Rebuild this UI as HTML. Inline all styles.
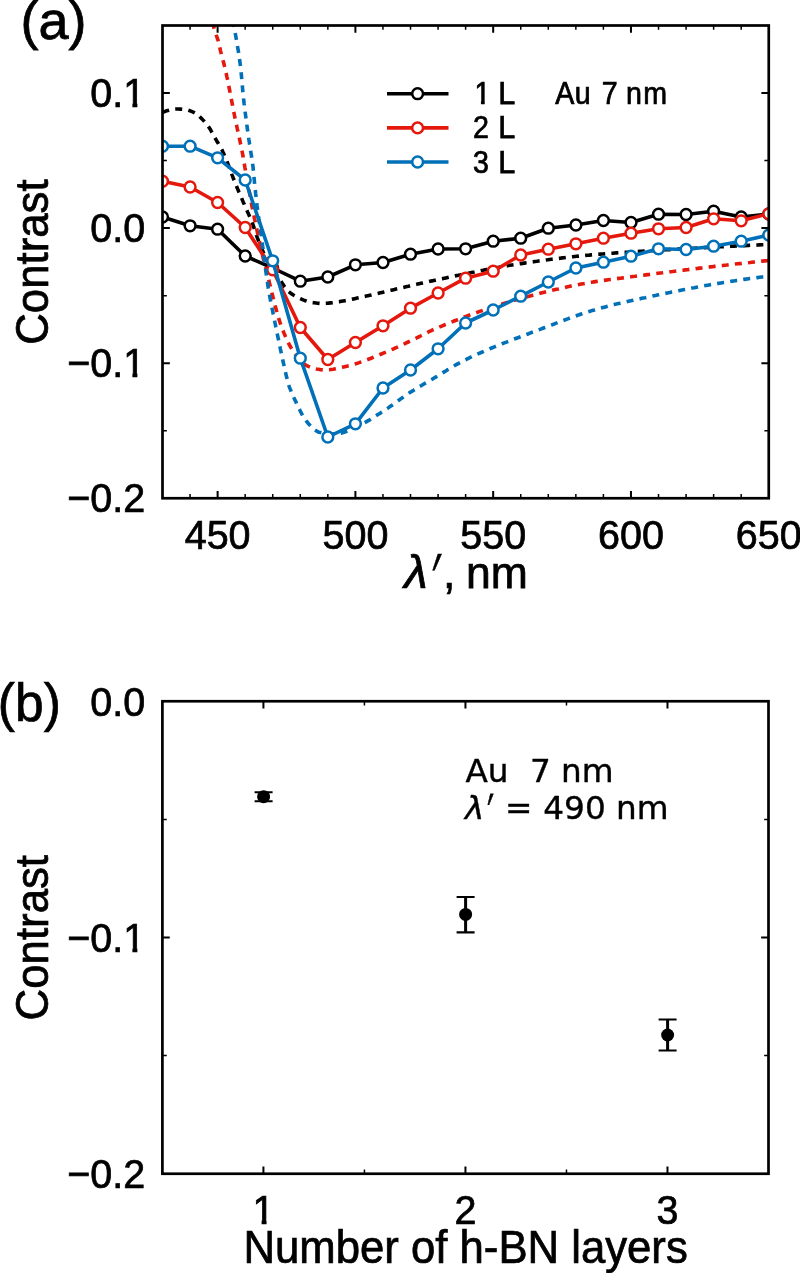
<!DOCTYPE html>
<html lang="en"><head><meta charset="utf-8"><title>Contrast of h-BN layers</title>
<style>html,body{margin:0;padding:0;background:#fff}body{width:800px;height:1273px;overflow:hidden}svg{display:block}text{font-family:"Liberation Sans",Arial,Helvetica,sans-serif;fill:#000}.dj{font-family:"DejaVu Sans","Liberation Sans",sans-serif}</style></head><body>
<svg width="800" height="1273" viewBox="0 0 800 1273">
<rect width="800" height="1273" fill="#fff"/>
<defs><clipPath id="ca"><rect x="162.5" y="25.5" width="606.25" height="472.75"/></clipPath></defs>
<g clip-path="url(#ca)" fill="none" stroke-linejoin="round">
<path d="M162.5,112.4 L164.2,111.7 L165.9,111.1 L167.7,110.6 L169.4,110.1 L171.2,109.8 L173.0,109.4 L174.8,109.1 L176.6,109.0 L178.4,109.0 L180.2,109.1 L182.1,109.2 L183.9,109.4 L185.6,109.6 L187.4,109.9 L189.2,110.5 L190.9,111.1 L192.6,111.8 L194.3,112.6 L195.8,113.4 L197.3,114.5 L198.7,115.6 L200.0,116.9 L201.3,118.2 L202.6,119.6 L203.8,120.9 L205.0,122.3 L206.2,123.7 L207.3,125.1 L208.4,126.6 L209.4,128.1 L210.4,129.6 L211.3,131.2 L212.2,132.7 L213.0,134.3 L213.9,136.0 L214.8,137.6 L215.7,139.1 L216.6,140.7 L217.5,142.3 L218.5,143.8 L219.4,145.4 L220.4,146.9 L221.2,148.5 L222.1,150.1 L222.8,151.8 L223.6,153.4 L224.3,155.1 L225.0,156.8 L225.7,158.5 L226.4,160.1 L227.0,161.8 L227.7,163.5 L228.4,165.2 L229.0,166.9 L229.6,168.6 L230.3,170.3 L230.9,172.0 L231.6,173.7 L232.2,175.4 L232.9,177.1 L233.5,178.8 L234.2,180.5 L234.9,182.2 L235.6,183.8 L236.2,185.5 L236.9,187.2 L237.6,188.9 L238.3,190.5 L239.0,192.2 L239.8,193.9 L240.5,195.6 L241.2,197.2 L241.9,198.9 L242.6,200.6 L243.3,202.2 L244.1,203.9 L244.8,205.6 L245.5,207.2 L246.3,208.9 L247.0,210.6 L247.7,212.2 L248.5,213.9 L249.2,215.5 L250.0,217.2 L250.7,218.8 L251.4,220.5 L252.1,222.2 L252.7,223.9 L253.3,225.6 L253.8,227.4 L254.4,229.1 L254.9,230.8 L255.5,232.6 L256.1,234.3 L256.7,236.0 L257.3,237.7 L258.0,239.4 L258.6,241.1 L259.3,242.8 L260.0,244.5 L260.6,246.2 L261.3,247.9 L262.1,249.5 L262.8,251.2 L263.5,252.9 L264.3,254.5 L265.0,256.2 L265.8,257.8 L266.6,259.4 L267.5,261.0 L268.3,262.6 L269.2,264.2 L270.2,265.7 L271.1,267.2 L272.1,268.7 L273.2,270.2 L274.2,271.7 L275.3,273.2 L276.3,274.7 L277.4,276.2 L278.5,277.7 L279.5,279.1 L280.6,280.6 L281.6,282.2 L282.6,283.7 L283.6,285.3 L284.6,286.9 L285.7,288.3 L286.8,289.7 L288.0,291.0 L289.3,292.1 L290.7,293.2 L292.2,294.3 L293.8,295.3 L295.4,296.2 L297.0,297.1 L298.7,297.9 L300.3,298.6 L302.0,299.4 L303.7,300.1 L305.4,300.7 L307.1,301.3 L308.9,301.8 L310.6,302.3 L312.4,302.6 L314.2,302.8 L316.0,303.0 L317.8,303.2 L319.6,303.4 L321.4,303.5 L323.3,303.5 L325.1,303.4 L326.9,303.3 L328.7,303.1 L330.5,302.9 L332.3,302.7 L334.1,302.4 L335.9,302.1 L337.7,301.8 L339.5,301.6 L341.3,301.3 L343.1,301.0 L344.9,300.7 L346.6,300.4 L348.4,300.0 L350.2,299.6 L352.0,299.2 L353.8,298.9 L355.5,298.5 L357.3,298.1 L359.1,297.7 L360.9,297.3 L362.6,296.9 L364.4,296.5 L366.2,296.1 L368.0,295.7 L369.7,295.3 L371.5,294.9 L373.3,294.5 L375.0,294.1 L376.8,293.7 L378.6,293.3 L380.3,292.8 L382.1,292.4 L383.9,292.0 L385.6,291.6 L387.4,291.1 L389.2,290.7 L390.9,290.3 L392.7,289.9 L394.5,289.5 L396.2,289.0 L398.0,288.6 L399.8,288.2 L401.5,287.8 L403.3,287.4 L405.1,287.0 L406.8,286.6 L408.6,286.2 L410.4,285.7 L412.2,285.3 L413.9,284.9 L415.7,284.5 L417.5,284.1 L419.2,283.7 L421.0,283.3 L422.8,282.9 L424.5,282.5 L426.3,282.1 L428.1,281.7 L429.9,281.3 L431.6,280.9 L433.4,280.6 L435.2,280.2 L437.0,279.8 L438.7,279.4 L440.5,279.0 L442.3,278.7 L444.1,278.3 L445.9,277.9 L447.6,277.5 L449.4,277.1 L451.2,276.8 L453.0,276.4 L454.7,276.0 L456.5,275.6 L458.3,275.3 L460.1,274.9 L461.9,274.5 L463.6,274.2 L465.4,273.8 L467.2,273.4 L469.0,273.1 L470.8,272.7 L472.5,272.3 L474.3,272.0 L476.1,271.6 L477.9,271.2 L479.7,270.9 L481.5,270.5 L483.2,270.2 L485.0,269.8 L486.8,269.5 L488.6,269.2 L490.4,268.8 L492.2,268.5 L493.9,268.2 L495.7,267.8 L497.5,267.5 L499.3,267.2 L501.1,266.9 L502.9,266.5 L504.7,266.2 L506.5,265.9 L508.2,265.6 L510.0,265.3 L511.8,265.0 L513.6,264.7 L515.4,264.5 L517.2,264.2 L519.0,263.9 L520.8,263.6 L522.6,263.4 L524.4,263.1 L526.2,262.8 L528.0,262.6 L529.8,262.3 L531.6,262.0 L533.4,261.8 L535.1,261.5 L536.9,261.3 L538.7,261.0 L540.5,260.8 L542.3,260.5 L544.1,260.3 L545.9,260.0 L547.8,259.8 L549.6,259.5 L551.4,259.3 L553.2,259.1 L555.0,258.8 L556.8,258.6 L558.6,258.4 L560.4,258.2 L562.2,257.9 L564.0,257.7 L565.8,257.5 L567.6,257.3 L569.4,257.1 L571.2,256.9 L573.0,256.7 L574.8,256.5 L576.6,256.3 L578.4,256.1 L580.2,255.9 L582.0,255.7 L583.8,255.6 L585.7,255.4 L587.5,255.2 L589.3,255.1 L591.1,254.9 L592.9,254.7 L594.7,254.6 L596.5,254.4 L598.3,254.3 L600.1,254.1 L601.9,254.0 L603.7,253.9 L605.5,253.7 L607.4,253.6 L609.2,253.4 L611.0,253.3 L612.8,253.2 L614.6,253.0 L616.4,252.9 L618.2,252.8 L620.0,252.7 L621.8,252.5 L623.7,252.4 L625.5,252.3 L627.3,252.2 L629.1,252.0 L630.9,251.9 L632.7,251.8 L634.5,251.7 L636.3,251.6 L638.2,251.5 L640.0,251.3 L641.8,251.2 L643.6,251.1 L645.4,251.0 L647.2,250.9 L649.0,250.8 L650.9,250.7 L652.7,250.6 L654.5,250.5 L656.3,250.4 L658.1,250.3 L659.9,250.2 L661.7,250.0 L663.6,249.9 L665.4,249.8 L667.2,249.7 L669.0,249.6 L670.8,249.5 L672.6,249.4 L674.4,249.3 L676.2,249.2 L678.1,249.1 L679.9,249.0 L681.7,248.9 L683.5,248.8 L685.3,248.7 L687.1,248.6 L688.9,248.5 L690.8,248.4 L692.6,248.3 L694.4,248.2 L696.2,248.1 L698.0,248.0 L699.8,247.9 L701.6,247.8 L703.4,247.7 L705.3,247.6 L707.1,247.5 L708.9,247.4 L710.7,247.3 L712.5,247.2 L714.3,247.1 L716.1,247.0 L718.0,246.9 L719.8,246.8 L721.6,246.7 L723.4,246.6 L725.2,246.5 L727.0,246.5 L728.8,246.4 L730.6,246.3 L732.5,246.2 L734.3,246.1 L736.1,246.0 L737.9,245.9 L739.7,245.8 L741.5,245.7 L743.3,245.6 L745.2,245.6 L747.0,245.5 L748.8,245.4 L750.6,245.3 L752.4,245.2 L754.2,245.1 L756.0,245.1 L757.9,245.0 L759.7,244.9 L761.5,244.8 L763.3,244.7 L765.1,244.7 L766.9,244.6 L768.8,244.5" stroke="#000000" stroke-width="3.6" stroke-dasharray="7 6.2"/>
<path d="M162.5,217.0 L190.1,225.8 L217.6,229.2 L245.2,256.0 L272.7,268.0 L300.3,281.2 L327.8,277.0 L355.4,264.8 L383.0,262.5 L410.5,254.2 L438.1,249.0 L465.6,248.8 L493.2,241.2 L520.7,238.2 L548.3,228.2 L575.9,225.0 L603.4,220.5 L631.0,222.5 L658.5,214.2 L686.1,214.5 L713.6,211.2 L741.2,217.0 L768.8,214.0" stroke="#000000" stroke-width="3.6"/>
<g fill="#fff" stroke="#000000" stroke-width="2.5"><circle cx="162.5" cy="217.0" r="5.4"/><circle cx="190.1" cy="225.8" r="5.4"/><circle cx="217.6" cy="229.2" r="5.4"/><circle cx="245.2" cy="256.0" r="5.4"/><circle cx="272.7" cy="268.0" r="5.4"/><circle cx="300.3" cy="281.2" r="5.4"/><circle cx="327.8" cy="277.0" r="5.4"/><circle cx="355.4" cy="264.8" r="5.4"/><circle cx="383.0" cy="262.5" r="5.4"/><circle cx="410.5" cy="254.2" r="5.4"/><circle cx="438.1" cy="249.0" r="5.4"/><circle cx="465.6" cy="248.8" r="5.4"/><circle cx="493.2" cy="241.2" r="5.4"/><circle cx="520.7" cy="238.2" r="5.4"/><circle cx="548.3" cy="228.2" r="5.4"/><circle cx="575.9" cy="225.0" r="5.4"/><circle cx="603.4" cy="220.5" r="5.4"/><circle cx="631.0" cy="222.5" r="5.4"/><circle cx="658.5" cy="214.2" r="5.4"/><circle cx="686.1" cy="214.5" r="5.4"/><circle cx="713.6" cy="211.2" r="5.4"/><circle cx="741.2" cy="217.0" r="5.4"/><circle cx="768.8" cy="214.0" r="5.4"/></g>
<path d="M212.5,22.0 L213.0,24.0 L213.5,26.1 L214.0,28.1 L214.6,30.1 L215.3,32.1 L216.0,34.1 L216.6,36.1 L217.3,38.1 L218.0,40.1 L218.5,42.1 L219.0,44.2 L219.5,46.2 L220.0,48.3 L220.4,50.3 L220.9,52.4 L221.4,54.4 L221.9,56.4 L222.4,58.5 L223.0,60.5 L223.6,62.5 L224.1,64.5 L224.6,66.6 L225.1,68.6 L225.6,70.7 L226.0,72.7 L226.5,74.8 L226.9,76.8 L227.4,78.9 L227.8,80.9 L228.2,83.0 L228.6,85.1 L229.0,87.1 L229.4,89.2 L229.8,91.2 L230.2,93.3 L230.6,95.4 L231.0,97.4 L231.4,99.5 L231.8,101.6 L232.2,103.6 L232.6,105.7 L233.0,107.8 L233.4,109.8 L233.8,111.9 L234.2,114.0 L234.6,116.0 L235.0,118.1 L235.4,120.1 L235.9,122.2 L236.3,124.2 L236.8,126.3 L237.2,128.4 L237.7,130.4 L238.1,132.5 L238.6,134.5 L239.0,136.6 L239.5,138.6 L239.9,140.7 L240.3,142.7 L240.8,144.8 L241.2,146.8 L241.6,148.9 L242.0,151.0 L242.4,153.0 L242.8,155.1 L243.2,157.2 L243.5,159.2 L243.9,161.3 L244.2,163.4 L244.6,165.4 L244.9,167.5 L245.3,169.6 L245.6,171.7 L246.0,173.7 L246.4,175.8 L246.7,177.9 L247.1,179.9 L247.5,182.0 L247.9,184.1 L248.2,186.1 L248.6,188.2 L249.0,190.3 L249.4,192.3 L249.8,194.4 L250.1,196.5 L250.5,198.5 L250.9,200.6 L251.3,202.7 L251.7,204.7 L252.1,206.8 L252.5,208.9 L252.9,210.9 L253.3,213.0 L253.8,215.0 L254.2,217.1 L254.6,219.1 L255.1,221.2 L255.5,223.3 L255.9,225.3 L256.4,227.4 L256.8,229.4 L257.2,231.5 L257.7,233.5 L258.1,235.6 L258.6,237.6 L259.0,239.7 L259.5,241.7 L259.9,243.8 L260.4,245.8 L260.9,247.9 L261.3,249.9 L261.8,252.0 L262.3,254.0 L262.8,256.1 L263.2,258.1 L263.7,260.2 L264.2,262.2 L264.7,264.2 L265.3,266.3 L265.8,268.3 L266.3,270.4 L266.8,272.4 L267.3,274.4 L267.8,276.5 L268.4,278.5 L268.9,280.5 L269.4,282.6 L269.9,284.6 L270.4,286.7 L270.9,288.7 L271.4,290.7 L271.9,292.8 L272.4,294.8 L272.9,296.9 L273.4,298.9 L273.9,301.0 L274.4,303.0 L274.9,305.0 L275.5,307.1 L276.0,309.1 L276.6,311.1 L277.1,313.1 L277.7,315.2 L278.3,317.2 L278.9,319.2 L279.6,321.2 L280.2,323.2 L280.9,325.1 L281.7,327.1 L282.4,329.1 L283.2,331.1 L284.0,333.1 L284.8,335.1 L285.7,337.0 L286.5,339.0 L287.4,340.9 L288.4,342.8 L289.3,344.6 L290.3,346.5 L291.4,348.2 L292.5,349.9 L293.6,351.7 L294.8,353.5 L296.1,355.3 L297.4,357.1 L298.8,358.9 L300.3,360.5 L301.8,362.1 L303.4,363.5 L305.0,364.7 L306.7,365.6 L308.4,366.4 L310.3,367.1 L312.2,367.7 L314.3,368.3 L316.4,368.9 L318.6,369.3 L320.7,369.7 L322.9,369.9 L325.0,370.0 L327.0,369.9 L329.1,369.8 L331.2,369.5 L333.3,369.2 L335.3,368.8 L337.4,368.4 L339.5,367.9 L341.6,367.4 L343.6,366.9 L345.7,366.4 L347.7,365.9 L349.7,365.5 L351.8,364.9 L353.8,364.3 L355.8,363.7 L357.8,363.1 L359.8,362.4 L361.8,361.7 L363.7,361.0 L365.7,360.3 L367.7,359.5 L369.7,358.8 L371.6,358.0 L373.6,357.2 L375.5,356.4 L377.5,355.6 L379.4,354.8 L381.4,354.0 L383.3,353.2 L385.3,352.4 L387.2,351.6 L389.1,350.8 L391.1,349.9 L393.0,349.1 L394.9,348.2 L396.8,347.4 L398.7,346.5 L400.6,345.6 L402.5,344.7 L404.4,343.8 L406.3,342.9 L408.2,342.0 L410.1,341.1 L412.0,340.1 L413.9,339.2 L415.8,338.3 L417.7,337.4 L419.6,336.5 L421.5,335.5 L423.3,334.6 L425.2,333.6 L427.1,332.6 L428.9,331.7 L430.8,330.8 L432.7,329.9 L434.7,329.1 L436.6,328.2 L438.5,327.4 L440.4,326.6 L442.4,325.8 L444.3,325.0 L446.3,324.2 L448.2,323.4 L450.1,322.6 L452.1,321.8 L454.1,321.0 L456.0,320.3 L458.0,319.5 L459.9,318.7 L461.9,318.0 L463.9,317.2 L465.8,316.5 L467.8,315.7 L469.8,315.0 L471.8,314.3 L473.8,313.6 L475.7,312.9 L477.7,312.2 L479.7,311.4 L481.7,310.8 L483.7,310.1 L485.7,309.4 L487.7,308.7 L489.7,308.0 L491.7,307.4 L493.7,306.7 L495.7,306.1 L497.7,305.4 L499.7,304.8 L501.7,304.2 L503.7,303.5 L505.7,302.9 L507.7,302.3 L509.8,301.7 L511.8,301.1 L513.8,300.5 L515.8,299.9 L517.8,299.4 L519.8,298.8 L521.8,298.2 L523.9,297.7 L525.9,297.1 L527.9,296.6 L529.9,296.0 L531.9,295.5 L534.0,294.9 L536.0,294.4 L538.0,293.9 L540.1,293.3 L542.1,292.8 L544.2,292.3 L546.2,291.8 L548.2,291.3 L550.3,290.8 L552.3,290.3 L554.4,289.8 L556.4,289.3 L558.5,288.9 L560.5,288.4 L562.6,287.9 L564.7,287.5 L566.7,287.0 L568.8,286.6 L570.8,286.1 L572.9,285.7 L575.0,285.3 L577.0,284.9 L579.1,284.5 L581.1,284.1 L583.2,283.7 L585.3,283.3 L587.3,283.0 L589.4,282.6 L591.5,282.3 L593.5,281.9 L595.6,281.6 L597.7,281.3 L599.8,281.0 L601.8,280.7 L603.9,280.4 L606.0,280.1 L608.1,279.8 L610.2,279.5 L612.3,279.3 L614.4,279.0 L616.4,278.7 L618.5,278.4 L620.6,278.2 L622.7,277.9 L624.8,277.6 L626.9,277.3 L628.9,277.1 L631.0,276.8 L633.1,276.5 L635.2,276.3 L637.3,276.0 L639.4,275.7 L641.4,275.4 L643.5,275.2 L645.6,274.9 L647.7,274.6 L649.8,274.4 L651.9,274.1 L653.9,273.8 L656.0,273.6 L658.1,273.3 L660.2,273.0 L662.3,272.8 L664.4,272.5 L666.4,272.2 L668.5,272.0 L670.6,271.7 L672.7,271.5 L674.8,271.2 L676.9,270.9 L679.0,270.7 L681.0,270.4 L683.1,270.2 L685.2,269.9 L687.3,269.7 L689.4,269.4 L691.5,269.1 L693.6,268.9 L695.6,268.6 L697.7,268.4 L699.8,268.1 L701.9,267.9 L704.0,267.6 L706.1,267.4 L708.2,267.1 L710.3,266.9 L712.3,266.7 L714.4,266.4 L716.5,266.2 L718.6,265.9 L720.7,265.7 L722.8,265.5 L724.9,265.2 L727.0,265.0 L729.0,264.7 L731.1,264.5 L733.2,264.3 L735.3,264.0 L737.4,263.8 L739.5,263.6 L741.6,263.4 L743.7,263.1 L745.8,262.9 L747.8,262.7 L749.9,262.5 L752.0,262.2 L754.1,262.0 L756.2,261.8 L758.3,261.6 L760.4,261.4 L762.5,261.1 L764.6,260.9 L766.7,260.7 L768.8,260.5" stroke="#e4180c" stroke-width="3.6" stroke-dasharray="7 6.2"/>
<path d="M162.5,181.2 L190.1,187.0 L217.6,202.5 L245.2,227.5 L272.7,269.8 L300.3,327.5 L327.8,359.5 L355.4,342.5 L383.0,325.8 L410.5,308.2 L438.1,293.0 L465.6,278.2 L493.2,271.2 L520.7,255.0 L548.3,249.2 L575.9,243.8 L603.4,238.2 L631.0,233.2 L658.5,228.8 L686.1,227.5 L713.6,218.8 L741.2,220.8 L768.8,213.8" stroke="#e4180c" stroke-width="3.6"/>
<g fill="#fff" stroke="#e4180c" stroke-width="2.5"><circle cx="162.5" cy="181.2" r="5.4"/><circle cx="190.1" cy="187.0" r="5.4"/><circle cx="217.6" cy="202.5" r="5.4"/><circle cx="245.2" cy="227.5" r="5.4"/><circle cx="272.7" cy="269.8" r="5.4"/><circle cx="300.3" cy="327.5" r="5.4"/><circle cx="327.8" cy="359.5" r="5.4"/><circle cx="355.4" cy="342.5" r="5.4"/><circle cx="383.0" cy="325.8" r="5.4"/><circle cx="410.5" cy="308.2" r="5.4"/><circle cx="438.1" cy="293.0" r="5.4"/><circle cx="465.6" cy="278.2" r="5.4"/><circle cx="493.2" cy="271.2" r="5.4"/><circle cx="520.7" cy="255.0" r="5.4"/><circle cx="548.3" cy="249.2" r="5.4"/><circle cx="575.9" cy="243.8" r="5.4"/><circle cx="603.4" cy="238.2" r="5.4"/><circle cx="631.0" cy="233.2" r="5.4"/><circle cx="658.5" cy="228.8" r="5.4"/><circle cx="686.1" cy="227.5" r="5.4"/><circle cx="713.6" cy="218.8" r="5.4"/><circle cx="741.2" cy="220.8" r="5.4"/><circle cx="768.8" cy="213.8" r="5.4"/></g>
<path d="M233.0,20.0 L233.3,22.3 L233.7,24.5 L234.0,26.8 L234.4,29.0 L234.9,31.2 L235.3,33.5 L235.7,35.7 L236.1,38.0 L236.5,40.2 L236.9,42.5 L237.2,44.7 L237.6,47.0 L238.0,49.2 L238.4,51.4 L238.7,53.7 L239.1,56.0 L239.4,58.2 L239.7,60.5 L240.0,62.7 L240.3,65.0 L240.6,67.2 L240.8,69.5 L241.0,71.8 L241.3,74.0 L241.5,76.3 L241.7,78.6 L241.9,80.8 L242.1,83.1 L242.3,85.4 L242.5,87.7 L242.7,89.9 L242.9,92.2 L243.2,94.5 L243.4,96.7 L243.6,99.0 L243.9,101.3 L244.1,103.5 L244.4,105.8 L244.7,108.0 L245.0,110.3 L245.2,112.6 L245.5,114.8 L245.8,117.1 L246.1,119.4 L246.4,121.6 L246.7,123.9 L247.0,126.1 L247.3,128.4 L247.6,130.6 L247.9,132.9 L248.2,135.2 L248.6,137.4 L248.9,139.7 L249.3,141.9 L249.6,144.2 L250.0,146.4 L250.3,148.7 L250.6,150.9 L251.0,153.2 L251.4,155.4 L251.7,157.7 L252.1,159.9 L252.4,162.2 L252.7,164.4 L253.0,166.7 L253.2,169.0 L253.4,171.2 L253.7,173.5 L253.9,175.8 L254.1,178.0 L254.3,180.3 L254.5,182.6 L254.7,184.9 L255.0,187.1 L255.2,189.4 L255.5,191.6 L255.7,193.9 L256.0,196.2 L256.2,198.4 L256.5,200.7 L256.8,203.0 L257.0,205.2 L257.3,207.5 L257.6,209.7 L257.9,212.0 L258.2,214.3 L258.5,216.5 L258.8,218.8 L259.2,221.0 L259.5,223.3 L259.8,225.5 L260.1,227.8 L260.5,230.1 L260.8,232.3 L261.1,234.6 L261.4,236.8 L261.7,239.1 L262.0,241.3 L262.3,243.6 L262.6,245.9 L262.9,248.1 L263.2,250.4 L263.4,252.6 L263.7,254.9 L264.0,257.2 L264.3,259.4 L264.6,261.7 L264.9,263.9 L265.2,266.2 L265.5,268.5 L265.8,270.7 L266.1,273.0 L266.4,275.2 L266.7,277.5 L267.0,279.8 L267.4,282.0 L267.7,284.3 L268.0,286.5 L268.4,288.8 L268.8,291.0 L269.1,293.3 L269.6,295.5 L270.0,297.7 L270.4,300.0 L270.9,302.2 L271.3,304.4 L271.8,306.7 L272.2,308.9 L272.7,311.1 L273.1,313.4 L273.6,315.6 L274.0,317.9 L274.5,320.1 L274.9,322.3 L275.4,324.6 L275.8,326.8 L276.3,329.0 L276.7,331.2 L277.2,333.5 L277.6,335.7 L278.1,337.9 L278.6,340.2 L279.0,342.4 L279.5,344.6 L280.0,346.9 L280.4,349.1 L280.9,351.3 L281.4,353.6 L281.8,355.8 L282.3,358.0 L282.8,360.2 L283.3,362.5 L283.8,364.7 L284.3,366.9 L284.8,369.1 L285.3,371.4 L285.8,373.6 L286.3,375.8 L286.9,378.0 L287.4,380.2 L288.0,382.4 L288.6,384.6 L289.3,386.8 L290.1,388.9 L291.0,391.0 L291.8,393.1 L292.8,395.2 L293.7,397.3 L294.7,399.4 L295.7,401.4 L296.6,403.5 L297.6,405.6 L298.6,407.7 L299.7,409.8 L300.7,411.9 L301.8,414.0 L302.9,416.0 L304.1,417.9 L305.4,419.7 L306.7,421.5 L308.1,423.2 L309.6,424.9 L311.2,426.7 L313.0,428.4 L314.9,430.0 L316.8,431.2 L318.7,432.2 L320.8,432.6 L322.9,433.0 L325.1,433.3 L327.5,433.6 L329.8,433.8 L332.2,433.9 L334.5,434.0 L336.7,433.9 L338.9,433.7 L341.1,433.2 L343.2,432.6 L345.4,431.8 L347.6,430.9 L349.7,430.0 L351.9,429.0 L354.0,427.9 L356.1,426.9 L358.1,425.9 L360.2,424.9 L362.2,423.9 L364.2,422.9 L366.2,421.8 L368.2,420.7 L370.2,419.6 L372.1,418.4 L374.1,417.1 L376.0,415.9 L377.9,414.6 L379.8,413.4 L381.8,412.1 L383.7,410.9 L385.6,409.6 L387.5,408.4 L389.3,407.1 L391.2,405.8 L393.1,404.5 L394.9,403.1 L396.8,401.8 L398.6,400.4 L400.5,399.1 L402.3,397.8 L404.2,396.5 L406.0,395.1 L407.9,393.9 L409.8,392.6 L411.7,391.4 L413.7,390.2 L415.6,389.0 L417.5,387.8 L419.5,386.6 L421.5,385.5 L423.4,384.3 L425.4,383.1 L427.4,382.0 L429.3,380.8 L431.3,379.7 L433.3,378.5 L435.2,377.4 L437.2,376.2 L439.1,375.0 L441.1,373.8 L443.0,372.6 L445.0,371.4 L446.9,370.2 L448.9,369.1 L450.8,367.9 L452.8,366.7 L454.8,365.5 L456.7,364.4 L458.7,363.3 L460.7,362.2 L462.7,361.2 L464.7,360.1 L466.8,359.1 L468.8,358.1 L470.8,357.2 L472.9,356.2 L475.0,355.3 L477.0,354.3 L479.1,353.4 L481.2,352.5 L483.3,351.6 L485.3,350.7 L487.4,349.8 L489.5,348.9 L491.6,348.0 L493.8,347.1 L495.9,346.3 L498.0,345.4 L500.1,344.6 L502.2,343.7 L504.3,342.9 L506.5,342.1 L508.6,341.2 L510.7,340.4 L512.9,339.6 L515.0,338.8 L517.2,338.0 L519.3,337.2 L521.4,336.4 L523.6,335.6 L525.7,334.8 L527.9,334.0 L530.0,333.1 L532.1,332.3 L534.3,331.5 L536.4,330.7 L538.5,329.9 L540.7,329.1 L542.8,328.3 L544.9,327.5 L547.1,326.7 L549.2,325.9 L551.3,325.1 L553.5,324.3 L555.6,323.4 L557.7,322.6 L559.8,321.8 L562.0,321.0 L564.1,320.2 L566.3,319.4 L568.4,318.6 L570.5,317.8 L572.7,317.0 L574.8,316.3 L577.0,315.5 L579.1,314.8 L581.3,314.0 L583.4,313.3 L585.6,312.6 L587.8,311.9 L589.9,311.3 L592.1,310.6 L594.3,310.0 L596.5,309.3 L598.7,308.7 L600.9,308.1 L603.1,307.5 L605.3,306.9 L607.5,306.3 L609.7,305.7 L611.9,305.2 L614.1,304.6 L616.3,304.1 L618.6,303.6 L620.8,303.1 L623.0,302.6 L625.2,302.1 L627.4,301.6 L629.6,301.1 L631.9,300.6 L634.1,300.1 L636.3,299.6 L638.5,299.1 L640.8,298.6 L643.0,298.1 L645.2,297.7 L647.4,297.2 L649.6,296.7 L651.9,296.2 L654.1,295.7 L656.3,295.3 L658.5,294.8 L660.8,294.3 L663.0,293.9 L665.2,293.4 L667.5,292.9 L669.7,292.5 L671.9,292.0 L674.2,291.6 L676.4,291.1 L678.6,290.7 L680.9,290.2 L683.1,289.8 L685.3,289.4 L687.6,288.9 L689.8,288.5 L692.0,288.1 L694.3,287.7 L696.5,287.2 L698.8,286.8 L701.0,286.4 L703.2,286.0 L705.5,285.6 L707.7,285.2 L710.0,284.8 L712.2,284.4 L714.5,284.0 L716.7,283.7 L719.0,283.3 L721.2,282.9 L723.5,282.5 L725.7,282.2 L728.0,281.8 L730.2,281.5 L732.5,281.1 L734.8,280.8 L737.0,280.4 L739.3,280.1 L741.5,279.8 L743.8,279.4 L746.1,279.1 L748.3,278.8 L750.6,278.5 L752.9,278.2 L755.1,277.9 L757.4,277.6 L759.7,277.3 L761.9,277.0 L764.2,276.8 L766.5,276.5 L768.8,276.3" stroke="#0070b8" stroke-width="3.6" stroke-dasharray="7 6.2"/>
<path d="M162.5,146.2 L190.1,146.2 L217.6,157.8 L245.2,180.0 L272.7,260.8 L300.3,358.2 L327.8,437.0 L355.4,423.8 L383.0,388.0 L410.5,370.0 L438.1,348.8 L465.6,323.0 L493.2,310.0 L520.7,296.2 L548.3,282.0 L575.9,268.0 L603.4,262.2 L631.0,256.2 L658.5,248.8 L686.1,249.5 L713.6,246.2 L741.2,241.2 L768.8,235.0" stroke="#0070b8" stroke-width="3.6"/>
<g fill="#fff" stroke="#0070b8" stroke-width="2.5"><circle cx="162.5" cy="146.2" r="5.4"/><circle cx="190.1" cy="146.2" r="5.4"/><circle cx="217.6" cy="157.8" r="5.4"/><circle cx="245.2" cy="180.0" r="5.4"/><circle cx="272.7" cy="260.8" r="5.4"/><circle cx="300.3" cy="358.2" r="5.4"/><circle cx="327.8" cy="437.0" r="5.4"/><circle cx="355.4" cy="423.8" r="5.4"/><circle cx="383.0" cy="388.0" r="5.4"/><circle cx="410.5" cy="370.0" r="5.4"/><circle cx="438.1" cy="348.8" r="5.4"/><circle cx="465.6" cy="323.0" r="5.4"/><circle cx="493.2" cy="310.0" r="5.4"/><circle cx="520.7" cy="296.2" r="5.4"/><circle cx="548.3" cy="282.0" r="5.4"/><circle cx="575.9" cy="268.0" r="5.4"/><circle cx="603.4" cy="262.2" r="5.4"/><circle cx="631.0" cy="256.2" r="5.4"/><circle cx="658.5" cy="248.8" r="5.4"/><circle cx="686.1" cy="249.5" r="5.4"/><circle cx="713.6" cy="246.2" r="5.4"/><circle cx="741.2" cy="241.2" r="5.4"/><circle cx="768.8" cy="235.0" r="5.4"/></g>
</g>
<line x1="387" y1="93.7" x2="448.5" y2="93.7" stroke="#000000" stroke-width="3.6"/>
<circle cx="417.6" cy="93.7" r="5.4" fill="#fff" stroke="#000000" stroke-width="2.5"/>
<line x1="387" y1="127.9" x2="448.5" y2="127.9" stroke="#e4180c" stroke-width="3.6"/>
<circle cx="417.6" cy="127.9" r="5.4" fill="#fff" stroke="#e4180c" stroke-width="2.5"/>
<line x1="387" y1="162.0" x2="448.5" y2="162.0" stroke="#0070b8" stroke-width="3.6"/>
<circle cx="417.6" cy="162.0" r="5.4" fill="#fff" stroke="#0070b8" stroke-width="2.5"/>
<g stroke="#000" fill="none"><path d="M217.61,25.5v7.35M217.61,498.25v-7.35" stroke-width="2.0"/><path d="M355.40,25.5v7.35M355.40,498.25v-7.35" stroke-width="2.0"/><path d="M493.18,25.5v7.35M493.18,498.25v-7.35" stroke-width="2.0"/><path d="M630.97,25.5v7.35M630.97,498.25v-7.35" stroke-width="2.0"/><path d="M190.06,25.5v4.35M190.06,498.25v-4.35" stroke-width="1.5"/><path d="M245.17,25.5v4.35M245.17,498.25v-4.35" stroke-width="1.5"/><path d="M272.73,25.5v4.35M272.73,498.25v-4.35" stroke-width="1.5"/><path d="M300.28,25.5v4.35M300.28,498.25v-4.35" stroke-width="1.5"/><path d="M327.84,25.5v4.35M327.84,498.25v-4.35" stroke-width="1.5"/><path d="M382.95,25.5v4.35M382.95,498.25v-4.35" stroke-width="1.5"/><path d="M410.51,25.5v4.35M410.51,498.25v-4.35" stroke-width="1.5"/><path d="M438.07,25.5v4.35M438.07,498.25v-4.35" stroke-width="1.5"/><path d="M465.62,25.5v4.35M465.62,498.25v-4.35" stroke-width="1.5"/><path d="M520.74,25.5v4.35M520.74,498.25v-4.35" stroke-width="1.5"/><path d="M548.30,25.5v4.35M548.30,498.25v-4.35" stroke-width="1.5"/><path d="M575.85,25.5v4.35M575.85,498.25v-4.35" stroke-width="1.5"/><path d="M603.41,25.5v4.35M603.41,498.25v-4.35" stroke-width="1.5"/><path d="M658.52,25.5v4.35M658.52,498.25v-4.35" stroke-width="1.5"/><path d="M686.08,25.5v4.35M686.08,498.25v-4.35" stroke-width="1.5"/><path d="M713.64,25.5v4.35M713.64,498.25v-4.35" stroke-width="1.5"/><path d="M741.19,25.5v4.35M741.19,498.25v-4.35" stroke-width="1.5"/><path d="M162.5,93.04h7.35M768.75,93.04h-7.35" stroke-width="2.0"/><path d="M162.5,228.11h7.35M768.75,228.11h-7.35" stroke-width="2.0"/><path d="M162.5,363.18h7.35M768.75,363.18h-7.35" stroke-width="2.0"/><path d="M162.5,160.57h4.35M768.75,160.57h-4.35" stroke-width="1.5"/><path d="M162.5,295.64h4.35M768.75,295.64h-4.35" stroke-width="1.5"/><path d="M162.5,430.71h4.35M768.75,430.71h-4.35" stroke-width="1.5"/></g>
<rect x="162.5" y="25.5" width="606.25" height="472.75" fill="none" stroke="#000" stroke-width="2.7"/>
<text transform="translate(145.2,107.2) scale(0.9569,1)" font-size="41.28" text-anchor="end" stroke="#000" stroke-width="0.75" >0.1</text>
<text transform="translate(145.2,242.3) scale(0.9569,1)" font-size="41.28" text-anchor="end" stroke="#000" stroke-width="0.75" >0.0</text>
<text transform="translate(145.2,377.4) scale(0.9569,1)" font-size="41.28" text-anchor="end" stroke="#000" stroke-width="0.75" >−0.1</text>
<text transform="translate(145.2,512.4) scale(0.9569,1)" font-size="41.28" text-anchor="end" stroke="#000" stroke-width="0.75" >−0.2</text>
<text transform="translate(217.6,549.0) scale(0.9569,1)" font-size="41.28" text-anchor="middle" stroke="#000" stroke-width="0.75" >450</text>
<text transform="translate(355.4,549.0) scale(0.9569,1)" font-size="41.28" text-anchor="middle" stroke="#000" stroke-width="0.75" >500</text>
<text transform="translate(493.2,549.0) scale(0.9569,1)" font-size="41.28" text-anchor="middle" stroke="#000" stroke-width="0.75" >550</text>
<text transform="translate(631.0,549.0) scale(0.9569,1)" font-size="41.28" text-anchor="middle" stroke="#000" stroke-width="0.75" >600</text>
<text transform="translate(768.8,549.0) scale(0.9569,1)" font-size="41.28" text-anchor="middle" stroke="#000" stroke-width="0.75" >650</text>
<text transform="translate(48.3,262.09999999999997) rotate(-90) scale(0.9416,1)" font-size="46.50" text-anchor="middle" stroke="#000" stroke-width="0.75">Contrast</text>
<text transform="translate(20.5,39.3) scale(1.0000,1)" font-size="54.00" text-anchor="start" stroke="#000" stroke-width="0.75" >(a)</text>
<text transform="translate(404.2,588.2) scale(1.0490,1)" font-size="45.39" text-anchor="start" stroke="#000" stroke-width="0.75" font-style="italic">λ</text>
<text transform="translate(423.9,598.1) skewX(-14) scale(0.62,1)" font-size="64" stroke="#000" stroke-width="0.6">′</text>
<text transform="translate(443,588) scale(0.9569,1)" font-size="46.50" text-anchor="start" stroke="#000" stroke-width="0.75" >,</text>
<text transform="translate(466,588) scale(1.0000,1)" font-size="44.50" text-anchor="start" stroke="#000" stroke-width="0.75" >nm</text>
<text transform="translate(474.4,104.2) scale(0.9346,1)" font-size="30.60" text-anchor="start" stroke="#000" stroke-width="0.75" >1</text>
<text transform="translate(498.3,104.2) scale(1.0000,1)" font-size="30.60" text-anchor="start" stroke="#000" stroke-width="0.75" >L</text>
<text transform="translate(473,138.4) scale(0.9346,1)" font-size="30.60" text-anchor="start" stroke="#000" stroke-width="0.75" >2</text>
<text transform="translate(498.3,138.4) scale(1.0000,1)" font-size="30.60" text-anchor="start" stroke="#000" stroke-width="0.75" >L</text>
<text transform="translate(473,172.5) scale(0.9346,1)" font-size="30.60" text-anchor="start" stroke="#000" stroke-width="0.75" >3</text>
<text transform="translate(498.3,172.5) scale(1.0000,1)" font-size="30.60" text-anchor="start" stroke="#000" stroke-width="0.75" >L</text>
<text transform="translate(555.3,104.2) scale(0.9346,1)" font-size="30.60" text-anchor="start" stroke="#000" stroke-width="0.75" letter-spacing="0.5">Au</text>
<text transform="translate(601.8,104.2) scale(0.9346,1)" font-size="30.60" text-anchor="start" stroke="#000" stroke-width="0.75" >7</text>
<text transform="translate(626,104.2) scale(0.9346,1)" font-size="30.60" text-anchor="start" stroke="#000" stroke-width="0.75" letter-spacing="1.5">nm</text>
<g stroke="#000" fill="none"><path d="M263.42,701.25v7.35M263.42,1173.75v-7.35" stroke-width="2.0"/><path d="M465.45,701.25v7.35M465.45,1173.75v-7.35" stroke-width="2.0"/><path d="M667.48,701.25v7.35M667.48,1173.75v-7.35" stroke-width="2.0"/><path d="M364.43,701.25v4.35M364.43,1173.75v-4.35" stroke-width="1.5"/><path d="M566.47,701.25v4.35M566.47,1173.75v-4.35" stroke-width="1.5"/><path d="M162.4,937.50h7.35M768.5,937.50h-7.35" stroke-width="2.0"/><path d="M162.4,819.38h4.35M768.5,819.38h-4.35" stroke-width="1.5"/><path d="M162.4,1055.62h4.35M768.5,1055.62h-4.35" stroke-width="1.5"/></g>
<rect x="162.4" y="701.25" width="606.1" height="472.5" fill="none" stroke="#000" stroke-width="2.7"/>
<path d="M263.6,792.25V801.25" stroke="#000" stroke-width="3" fill="none"/>
<path d="M254.60000000000002,792.25h18M254.60000000000002,801.25h18" stroke="#000" stroke-width="2.2" fill="none"/>
<circle cx="263.6" cy="796.7" r="6.5" fill="#000"/>
<path d="M465.6,897V932.3" stroke="#000" stroke-width="3" fill="none"/>
<path d="M456.6,897h18M456.6,932.3h18" stroke="#000" stroke-width="2.2" fill="none"/>
<circle cx="465.6" cy="914.4" r="6.5" fill="#000"/>
<path d="M667.6,1019.5V1050.5" stroke="#000" stroke-width="3" fill="none"/>
<path d="M658.6,1019.5h18M658.6,1050.5h18" stroke="#000" stroke-width="2.2" fill="none"/>
<circle cx="667.6" cy="1035" r="6.5" fill="#000"/>
<text transform="translate(145.2,715.5) scale(0.9569,1)" font-size="41.28" text-anchor="end" stroke="#000" stroke-width="0.75" >0.0</text>
<text transform="translate(145.2,951.7) scale(0.9569,1)" font-size="41.28" text-anchor="end" stroke="#000" stroke-width="0.75" >−0.1</text>
<text transform="translate(145.2,1188.0) scale(0.9569,1)" font-size="41.28" text-anchor="end" stroke="#000" stroke-width="0.75" >−0.2</text>
<text transform="translate(263.4,1223.7) scale(0.9569,1)" font-size="41.28" text-anchor="middle" stroke="#000" stroke-width="0.75" >1</text>
<text transform="translate(465.5,1223.7) scale(0.9569,1)" font-size="41.28" text-anchor="middle" stroke="#000" stroke-width="0.75" >2</text>
<text transform="translate(667.5,1223.7) scale(0.9569,1)" font-size="41.28" text-anchor="middle" stroke="#000" stroke-width="0.75" >3</text>
<text transform="translate(48.3,937.7) rotate(-90) scale(0.9416,1)" font-size="46.50" text-anchor="middle" stroke="#000" stroke-width="0.75">Contrast</text>
<text transform="translate(-2.2,721) scale(0.9550,1)" font-size="54.00" text-anchor="start" stroke="#000" stroke-width="0.75" >(b)</text>
<text transform="translate(465.6,1263) scale(0.9397,1)" font-size="46.50" text-anchor="middle" stroke="#000" stroke-width="0.75" >Number of h-BN layers</text>
<text class="dj" transform="translate(465.5,782.4) scale(1.0,1.0)" font-size="32.7" stroke="#000" stroke-width="0.4">Au</text>
<text class="dj" transform="translate(530,782.4) scale(1.0,1.0)" font-size="32.7" stroke="#000" stroke-width="0.4">7</text>
<text class="dj" transform="translate(561,782.4) scale(1.0,1.0)" font-size="32.7" stroke="#000" stroke-width="0.4">nm</text>
<text class="dj" transform="translate(465,819.4) scale(1.0,1.0)" font-size="32.7" font-style="italic" stroke="#000" stroke-width="0.4">λ</text>
<text class="dj" transform="translate(487.3,836.2) scale(1.0,1.9)" font-size="30" stroke="#000" stroke-width="0.4">′</text>
<text class="dj" transform="translate(505,819.4) scale(1.0,1.0)" font-size="32.7" stroke="#000" stroke-width="0.4">=</text>
<text class="dj" transform="translate(543.3,819.4) scale(1.0,1.0)" font-size="32.7" stroke="#000" stroke-width="0.4">490</text>
<text class="dj" transform="translate(616,819.4) scale(1.0,1.0)" font-size="32.7" stroke="#000" stroke-width="0.4">nm</text>
<path d="M124.82,102.87H132.41V108.70H124.82ZM137.37,102.87H145.36V108.70H137.37Z" fill="#fff"/>
<path d="M124.82,373.07H132.41V378.90H124.82ZM137.37,373.07H145.36V378.90H137.37Z" fill="#fff"/>
<path d="M124.82,947.37H132.41V953.20H124.82ZM137.37,947.37H145.36V953.20H137.37Z" fill="#fff"/>
<path d="M254.00,1219.37H261.59V1225.20H254.00ZM266.55,1219.37H274.54V1225.20H266.55Z" fill="#fff"/>
<path d="M475.54,101.06H480.94V105.70H475.54ZM484.73,101.06H490.42V105.70H484.73Z" fill="#fff"/>
</svg></body></html>
